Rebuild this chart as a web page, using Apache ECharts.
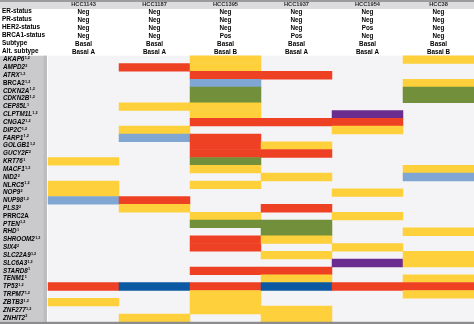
<!DOCTYPE html>
<html>
<head>
<meta charset="utf-8">
<script src="https://cdn.jsdelivr.net/npm/echarts@6/dist/echarts.min.js"></script>
<style>
  html, body { margin: 0; padding: 0; background: #ffffff; }
  #chart { width: 474px; height: 324px; }
</style>
</head>
<body>
<div id="chart"></div>
<script>
// Cell lines (columns)
const cellLines = ['HCC1143', 'HCC1187', 'HCC1395', 'HCC1937', 'HCC1954', 'HCC38'];

// Clinical annotation rows shown above the matrix
const headerFields = ['ER-status', 'PR-status', 'HER2-status', 'BRCA1-status', 'Subtype', 'Alt. subtype'];
const erStatus    = ['Neg', 'Neg', 'Neg', 'Neg', 'Neg', 'Neg'];
const prStatus    = ['Neg', 'Neg', 'Neg', 'Neg', 'Neg', 'Neg'];
const her2Status  = ['Neg', 'Neg', 'Neg', 'Neg', 'Pos', 'Neg'];
const brca1Status = ['Neg', 'Neg', 'Pos', 'Pos', 'Neg', 'Neg'];
const subtype     = ['Basal', 'Basal', 'Basal', 'Basal', 'Basal', 'Basal'];
const altSubtype  = ['Basal A', 'Basal A', 'Basal B', 'Basal A', 'Basal A', 'Basal B'];

// Genes (rows) and their source superscripts
const genes = ['AKAP6', 'AMPD2', 'ATRX', 'BRCA2', 'CDKN2A', 'CDKN2B', 'CEP85L', 'CLPTM1L', 'CNGA2',
  'DIP2C', 'FARP1', 'GOLGB1', 'GUCY2F', 'KRT76', 'MACF1', 'NID2', 'NLRC5', 'NOP9', 'NUP98', 'PLS3',
  'PRRC2A', 'PTEN', 'RHD', 'SHROOM2', 'SIX4', 'SLC22A9', 'SLC6A3', 'STARD8', 'TENM1', 'TP53',
  'TRPM7', 'ZBTB3', 'ZNF277', 'ZNHIT2'];
const geneSources = ['1,2', '2', '1,2', '1,2', '1,2', '1,2', '1', '1,2', '1,2',
  '1,2', '1,2', '1,2', '2', '1', '1,2', '2', '1,2', '2', '1,2', '2',
  '', '1,2', '1', '1,2', '2', '1,2', '1,2', '1', '1', '1,2',
  '1,2', '1,2', '1,2', '2'];
const uprightGenes = ['BRCA2', 'PRRC2A'];

// Alteration class per gene for each cell line (0 = none)
// 1 yellow, 2 red, 3 light blue, 4 green, 5 purple, 6 dark blue
const hcc1143 = [0,0,0,0,0,0,0,0,0,0, 0,0,0,1,0,0,1,1,3,0, 0,0,0,0,0,0,0,0,0,2, 0,1,0,0];
const hcc1187 = [0,2,0,0,0,0,1,0,0,1, 3,0,0,0,0,0,0,0,2,1, 0,0,0,0,0,0,0,0,0,6, 0,0,0,1];
const hcc1395 = [1,1,2,3,4,4,1,1,2,0, 2,2,2,4,1,0,1,0,0,0, 1,4,0,2,2,0,0,2,0,2, 1,1,1,0];
const hcc1937 = [0,0,2,0,0,0,0,0,2,0, 0,1,2,0,0,1,0,0,0,2, 0,4,4,1,0,1,0,2,1,6, 0,0,1,1];
const hcc1954 = [0,0,0,0,0,0,0,5,2,1, 0,0,0,0,0,0,0,1,0,0, 1,0,0,0,1,0,5,0,0,2, 0,0,0,0];
const hcc38   = [1,0,0,1,4,4,0,0,0,0, 0,0,0,0,1,3,0,0,0,0, 0,0,1,0,0,1,1,0,1,2, 1,0,0,0];

const matrix = [hcc1143, hcc1187, hcc1395, hcc1937, hcc1954, hcc38];
const classColors = ['#fdd03c', '#ee4124', '#80a7d3', '#728f3b', '#6a2d8f', '#0b58a3'];

const cells = [];
matrix.forEach((col, x) => col.forEach((v, y) => { if (v) cells.push([x, y, v]); }));

const headerRows = [erStatus, prStatus, her2Status, brca1Status, subtype, altSubtype];

const FONT = 'Liberation Sans, Arial, sans-serif';
const ROW_H = 7.85;

const chart = echarts.init(document.getElementById('chart'), null, { renderer: 'canvas' });

chart.setOption({
  backgroundColor: '#ffffff',
  animation: false,
  grid: {
    left: 47, right: 0, top: 55.7, bottom: 2.3,
    show: true, backgroundColor: '#f4f4f6', borderWidth: 0
  },
  xAxis: {
    type: 'category',
    position: 'top',
    data: cellLines,
    axisLine: { show: false },
    axisTick: { show: false },
    splitLine: { show: false },
    axisLabel: {
      interval: 0,
      margin: 0,
      formatter: (name, i) => {
        const lines = ['{h|' + name + '}'];
        headerRows.forEach(r => lines.push('{v|' + r[i] + '}'));
        return lines.join('\n');
      },
      rich: {
        h: { fontFamily: FONT, fontWeight: 'bold', fontSize: 5.7, color: '#2a2a2a', lineHeight: ROW_H, align: 'center' },
        v: { fontFamily: FONT, fontWeight: 'bold', fontSize: 6.3, color: '#000000', lineHeight: ROW_H, align: 'center' }
      }
    }
  },
  yAxis: {
    type: 'category',
    inverse: true,
    data: genes,
    axisLine: { show: false },
    axisTick: { show: false },
    splitLine: { show: false },
    axisLabel: {
      interval: 0,
      align: 'left',
      margin: 45,
      formatter: (name, i) => {
        const g = uprightGenes.includes(name) ? 'u' : 'g';
        const sup = geneSources[i] ? '{s|' + geneSources[i] + '}' : '';
        return '{' + g + '|' + name + '}' + sup;
      },
      rich: {
        g: { fontFamily: FONT, fontWeight: 'bold', fontStyle: 'italic', fontSize: 6.3, color: '#000000' },
        u: { fontFamily: FONT, fontWeight: 'bold', fontSize: 6.3, color: '#000000' },
        s: { fontFamily: FONT, fontWeight: 'bold', fontSize: 3.8, color: '#000000', padding: [0, 0, 3, 0.3] }
      }
    }
  },
  visualMap: {
    show: false,
    type: 'piecewise',
    dimension: 2,
    pieces: classColors.map((c, k) => ({ value: k + 1, color: c }))
  },
  graphic: [
    // header strip behind the cell line names
    { type: 'rect', left: 0, top: 0, z: -10, shape: { width: 474, height: 2 }, style: { fill: '#9c9c9e' } },
    { type: 'rect', left: 0, top: 2, z: -10, shape: { width: 474, height: 7 }, style: { fill: '#dcdcde' } },
    // gene label column
    { type: 'rect', left: 0, top: 55.7, z: -10, shape: { width: 47, height: 266 }, style: { fill: '#cacacc' } },
    { type: 'rect', left: 43.5, top: 55.7, z: -10, shape: { width: 3.5, height: 266 }, style: { fill: '#bdbdbf' } },
    // bottom rule
    { type: 'rect', left: 0, top: 321.7, z: 10, shape: { width: 474, height: 3 }, style: { fill: '#8c8c8e' } },
    // names of the annotation rows
    {
      type: 'text', left: 2, top: 0.7, z: 5,
      style: {
        text: ['{v| }'].concat(headerFields.map(f => '{v|' + f + '}')).join('\n'),
        rich: { v: { fontFamily: FONT, fontWeight: 'bold', fontSize: 6.4, fill: '#000000', lineHeight: ROW_H } }
      }
    }
  ],
  series: [{
    type: 'heatmap',
    data: cells,
    itemStyle: { borderWidth: 0 },
    emphasis: { disabled: true },
    progressive: 0
  }]
});
</script>
</body>
</html>
